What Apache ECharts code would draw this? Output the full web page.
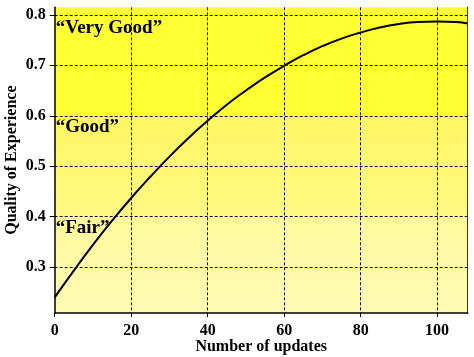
<!DOCTYPE html>
<html>
<head>
<meta charset="utf-8">
<script src="https://cdn.jsdelivr.net/npm/echarts@6/dist/echarts.min.js"></script>
<style>html,body{margin:0;padding:0;background:#fff;}#c{width:474px;height:357px;}</style>
</head>
<body>
<div id="c"></div>
<script>
// Data
const updates = [0, 5, 10, 15, 20, 25, 30, 35, 40, 45, 50, 55, 60, 65, 70, 75, 80, 85, 90, 95, 100, 105, 108];
const qoe = [0.240, 0.293, 0.344, 0.392, 0.437, 0.479, 0.519, 0.556, 0.590, 0.622, 0.650, 0.676, 0.699, 0.720, 0.738, 0.753, 0.765, 0.775, 0.782, 0.786, 0.787, 0.786, 0.783];
const bandNames = ['\u201CVery Good\u201D', '\u201CGood\u201D', '\u201CFair\u201D'];
const bandLower = [0.6, 0.4, 0.209];
const bandUpper = [0.815, 0.6, 0.4];
const xTicks = [0, 20, 40, 60, 80, 100];
const yTicks = [0.3, 0.4, 0.5, 0.6, 0.7, 0.8];
const xMax = 108;
const yMin = 0.209, yMax = 0.815;

const FONT = '"Liberation Serif", "Times New Roman", serif';
const bandColors = [
  '#FFFF33',
  {type:'linear', x:0, y:0, x2:0, y2:1, colorStops:[{offset:0,color:'#FFF662'},{offset:1,color:'#FFF984'}]},
  {type:'linear', x:0, y:0, x2:0, y2:1, colorStops:[{offset:0,color:'#FFF99C'},{offset:1,color:'#FFFBB4'}]}
];
const labelOffsets = [[1, 11], [1, 2], [1, 1.5]];

const chart = echarts.init(document.getElementById('c'), null, {renderer:'canvas'});
const areaData = bandNames.map((n, i) => [
  {name: n, yAxis: bandLower[i], itemStyle: {color: bandColors[i]},
   label: {offset: labelOffsets[i]}},
  {yAxis: bandUpper[i]}
]);
const gridLine = {show: true, showMaxLine: false, showMinLine: false, lineStyle: {color: '#111', type: [3, 2], width: 1}};

chart.setOption({
  animation: false,
  backgroundColor: '#fff',
  grid: {left: 54.7, right: 6.3, top: 7.3, bottom: 44, containLabel: false, outerBoundsMode: 'none'},
  xAxis: {
    type: 'value', min: xTicks[0], max: xMax, interval: 20, z: 10,
    name: 'Number of updates', nameLocation: 'middle', nameGap: 26, nameMoveOverlap: false,
    nameTextStyle: {fontFamily: FONT, fontWeight: 'bold', fontSize: 16, color: '#000'},
    axisLine: {show: true, onZero: false, lineStyle: {color: '#000', width: 1.5}},
    axisTick: {show: true, length: 4, lineStyle: {color: '#000'}},
    axisLabel: {fontFamily: FONT, fontWeight: 'bold', fontSize: 16, color: '#000', margin: 10, showMaxLabel: false},
    splitLine: gridLine
  },
  yAxis: [{
    type: 'value', min: yMin, max: yMax, splitNumber: 6, z: 10,
    name: 'Quality of Experience', nameLocation: 'middle', nameGap: 35, nameMoveOverlap: false,
    nameTextStyle: {fontFamily: FONT, fontWeight: 'bold', fontSize: 16, color: '#000'},
    axisLine: {show: true, lineStyle: {color: '#000', width: 1.5}},
    axisTick: {show: true, length: 5, lineStyle: {color: '#000'}},
    axisLabel: {fontFamily: FONT, fontWeight: 'bold', fontSize: 16, color: '#000', margin: 9,
      showMinLabel: false, showMaxLabel: false},
    splitLine: gridLine
  }, {
    type: 'value', min: yMin, max: yMax, position: 'right', z: 10,
    axisLine: {show: true, lineStyle: {color: '#333', width: 1}},
    axisTick: {show: false}, axisLabel: {show: false}, splitLine: {show: false}
  }],
  series: [{
    type: 'line',
    data: updates.map((u, i) => [u, qoe[i]]),
    smooth: true,
    showSymbol: false,
    lineStyle: {color: '#000', width: 2},
    markArea: {
      silent: true,
      label: {show: true, position: 'insideTopLeft', distance: 0,
        fontFamily: FONT, fontWeight: 'bold', fontSize: 19, color: '#000', lineHeight: 19},
      data: areaData
    }
  }]
});
</script>
</body>
</html>
